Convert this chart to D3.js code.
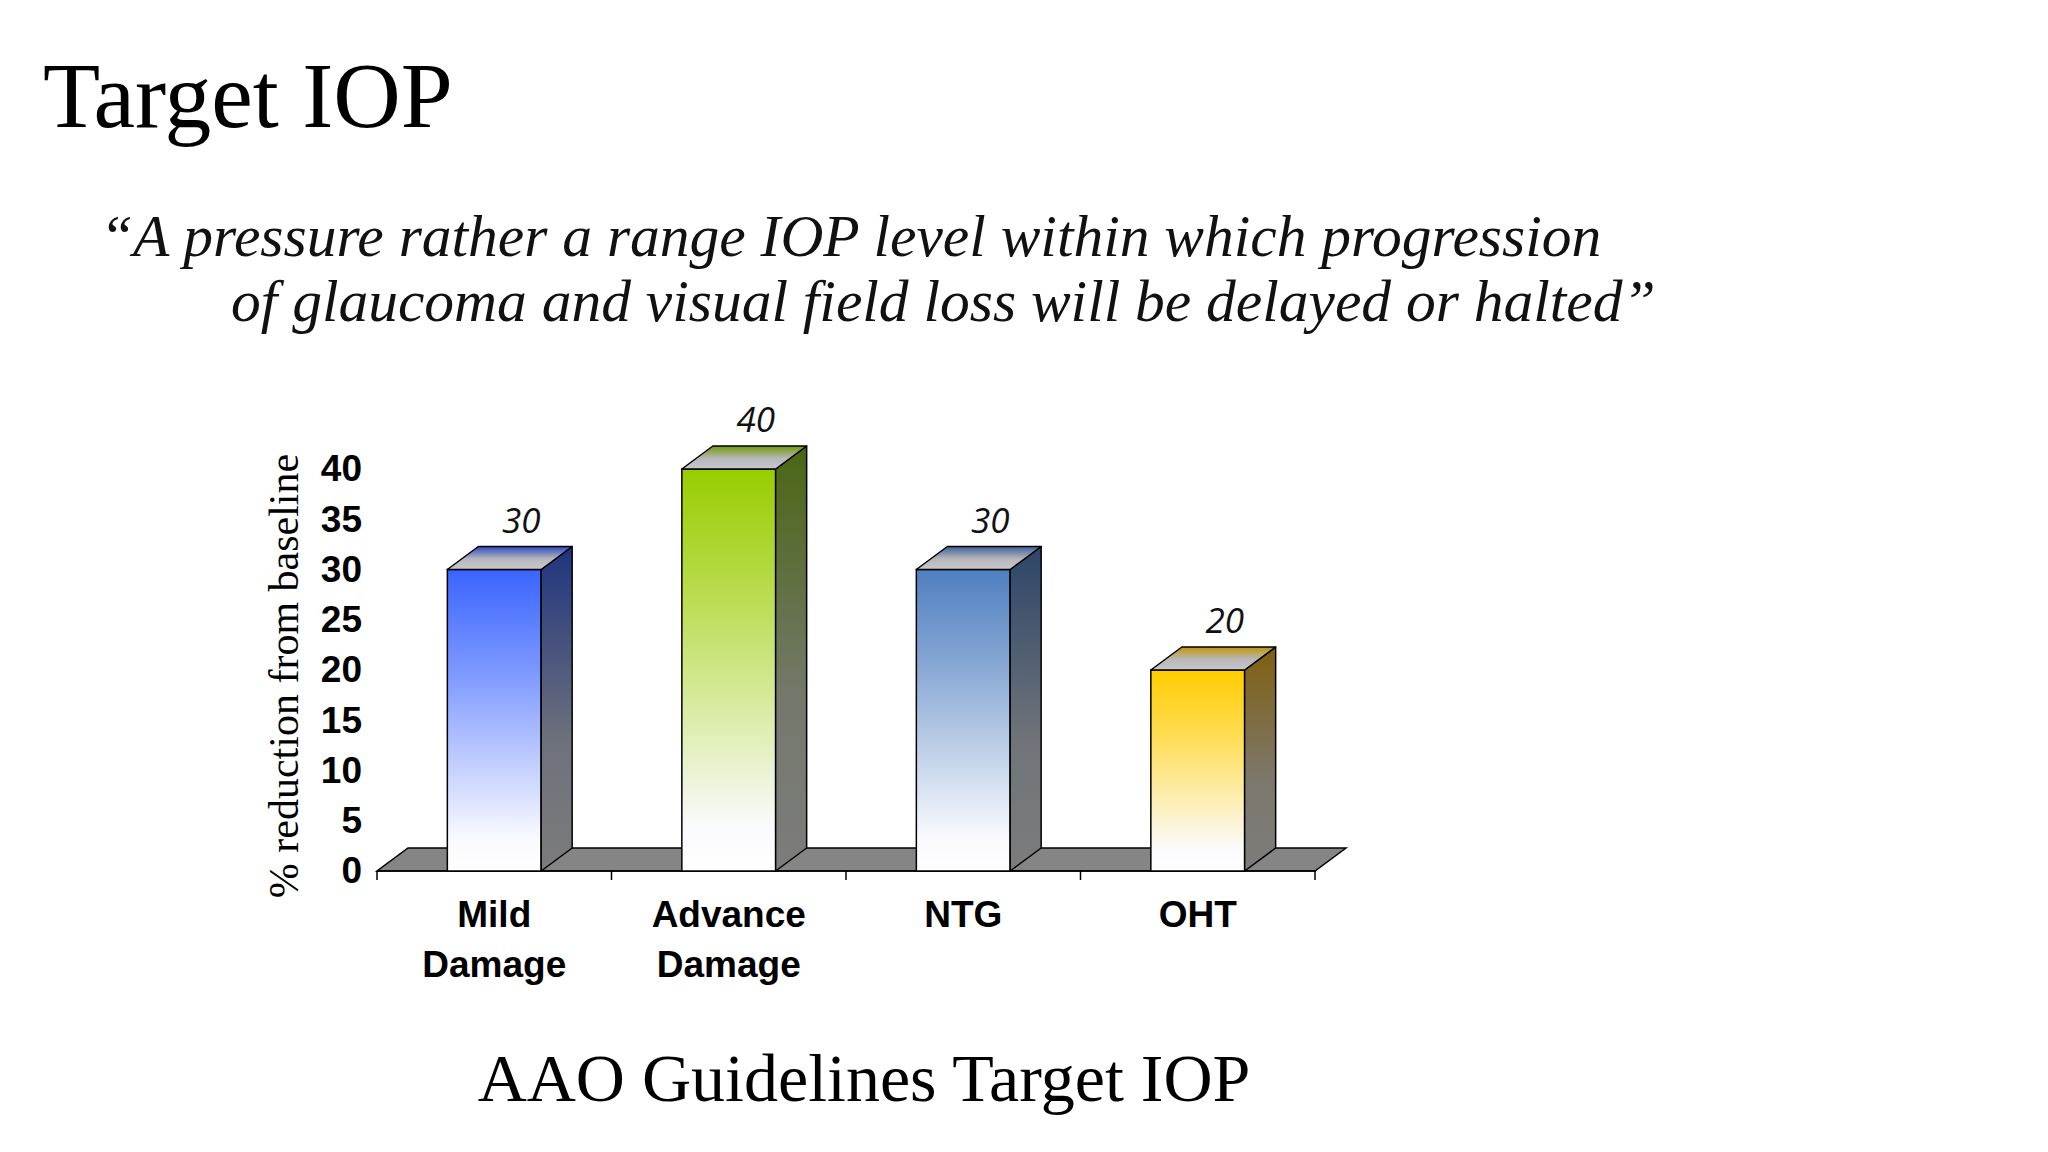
<!DOCTYPE html>
<html>
<head>
<meta charset="utf-8">
<script src="https://cdn.jsdelivr.net/npm/d3@7"></script>
<style>
  body { margin: 0; background: #ffffff; }
</style>
</head>
<body>
<script>
var categories = ["Mild Damage", "Advance Damage", "NTG", "OHT"];
var values = [30, 40, 30, 20];
var yTicks = [0, 5, 10, 15, 20, 25, 30, 35, 40];
var barColors = ["#3a64ff", "#99cc00", "#4f7fc0", "#ffcc00"];
var sideColors = ["#1f347f", "#4a6614", "#2c4569", "#806010"];

var w = 2048, h = 1152;
var depth = { dx: 31, dy: -23 };

var svg = d3.select("body").append("svg").attr("width", w).attr("height", h);
svg.append("rect").attr("width", w).attr("height", h).attr("fill", "#ffffff");

var x = d3.scaleBand().domain(categories).range([377, 1315]).padding(0);
var y = d3.scaleLinear().domain([0, 40]).range([871, 469]);
var barW = x.bandwidth() * 0.4;

// titles
svg.append("text").attr("x", 43).attr("y", 127)
    .attr("font-family", "Liberation Serif, Times New Roman, serif")
    .attr("font-size", 93.5).attr("fill", "#000").text("Target IOP");

var quote = svg.append("g")
    .attr("font-family", "Liberation Serif, Times New Roman, serif")
    .attr("font-style", "italic").attr("font-size", 59.5).attr("fill", "#111");
quote.append("text").attr("x", 100).attr("y", 256)
    .text("\u201cA pressure rather a range IOP level within which progression");
quote.append("text").attr("x", 231).attr("y", 321)
    .text("of glaucoma and visual field loss will be delayed or halted\u201d");

svg.append("text").attr("x", 864).attr("y", 1101).attr("text-anchor", "middle")
    .attr("font-family", "Liberation Serif, Times New Roman, serif")
    .attr("font-size", 68).attr("fill", "#000").text("AAO Guidelines Target IOP");

// gradients
var defs = svg.append("defs");
categories.forEach(function (c, i) {
    var gf = defs.append("linearGradient").attr("id", "front" + i)
        .attr("x1", 0).attr("y1", 0).attr("x2", 0).attr("y2", 1);
    gf.append("stop").attr("offset", "0").attr("stop-color", barColors[i]);
    gf.append("stop").attr("offset", "0.35").attr("stop-color", d3.interpolateRgb(barColors[i], "#fff")(0.35));
    gf.append("stop").attr("offset", "0.9").attr("stop-color", "#fbfbff");
    gf.append("stop").attr("offset", "1").attr("stop-color", "#ffffff");

    var gs = defs.append("linearGradient").attr("id", "side" + i)
        .attr("x1", 0).attr("y1", 0).attr("x2", 0).attr("y2", 1);
    gs.append("stop").attr("offset", "0").attr("stop-color", sideColors[i]);
    gs.append("stop").attr("offset", "0.6").attr("stop-color", d3.interpolateRgb(sideColors[i], "#7c7c7c")(0.85));
    gs.append("stop").attr("offset", "1").attr("stop-color", "#7c7c7c");

    var gt = defs.append("linearGradient").attr("id", "top" + i)
        .attr("x1", 0).attr("y1", 1).attr("x2", 0).attr("y2", 0);
    gt.append("stop").attr("offset", "0").attr("stop-color", "#c8c8cc");
    gt.append("stop").attr("offset", "0.45").attr("stop-color", "#b8b8bc");
    gt.append("stop").attr("offset", "1").attr("stop-color", d3.interpolateRgb(sideColors[i], barColors[i])(0.5));
});

// floor
var x0 = x.range()[0], x1 = x.range()[1], y0 = y(0);
svg.append("polygon")
    .attr("points", [[x0, y0], [x1, y0], [x1 + depth.dx, y0 + depth.dy], [x0 + depth.dx, y0 + depth.dy]].join(" "))
    .attr("fill", "#858585").attr("stroke", "#000").attr("stroke-width", 1.5);

// bottom axis line + ticks at band edges
svg.append("line").attr("x1", x0).attr("x2", x1).attr("y1", y0).attr("y2", y0)
    .attr("stroke", "#000").attr("stroke-width", 1.5);
var edges = categories.map(function (c) { return x(c); }).concat([x1]);
svg.selectAll("line.tick").data(edges).enter().append("line")
    .attr("x1", function (d) { return d; }).attr("x2", function (d) { return d; })
    .attr("y1", y0).attr("y2", y0 + 9)
    .attr("stroke", "#000").attr("stroke-width", 1.5);

// bars
var bars = svg.selectAll("g.bar").data(values).enter().append("g").attr("class", "bar");
function bx(d, i) { return x(categories[i]) + (x.bandwidth() - barW) / 2; }

bars.append("rect")
    .attr("x", bx)
    .attr("y", function (d) { return y(d); })
    .attr("width", barW)
    .attr("height", function (d) { return y0 - y(d); })
    .attr("fill", function (d, i) { return "url(#front" + i + ")"; })
    .attr("stroke", "#000").attr("stroke-width", 1.5);

bars.append("polygon")
    .attr("points", function (d, i) {
        var l = bx(d, i) + barW, t = y(d);
        return [[l, t], [l + depth.dx, t + depth.dy], [l + depth.dx, y0 + depth.dy], [l, y0]].join(" ");
    })
    .attr("fill", function (d, i) { return "url(#side" + i + ")"; })
    .attr("stroke", "#000").attr("stroke-width", 1.5).attr("stroke-linejoin", "round");

bars.append("polygon")
    .attr("points", function (d, i) {
        var l = bx(d, i), t = y(d);
        return [[l, t], [l + barW, t], [l + barW + depth.dx, t + depth.dy], [l + depth.dx, t + depth.dy]].join(" ");
    })
    .attr("fill", function (d, i) { return "url(#top" + i + ")"; })
    .attr("stroke", "#000").attr("stroke-width", 1.5).attr("stroke-linejoin", "round");

// value labels
bars.append("text")
    .attr("x", function (d, i) { return bx(d, i) + barW / 2 + 27; })
    .attr("y", function (d) { return y(d) + depth.dy - 14; })
    .attr("text-anchor", "middle")
    .attr("font-family", "Open Sans, sans-serif").attr("font-style", "italic")
    .attr("font-size", 35).attr("fill", "#111")
    .text(function (d) { return d; });

// y axis tick labels
var yAxis = d3.axisLeft(y).tickValues(yTicks).tickSize(0).tickPadding(15);
var ga = svg.append("g").attr("transform", "translate(" + x0 + ",0)").call(yAxis);
ga.select(".domain").remove();
ga.selectAll("text")
    .attr("font-family", "Liberation Sans, Arial, sans-serif")
    .attr("font-weight", "bold").attr("font-size", 37).attr("fill", "#000");

// y axis title
svg.append("text")
    .attr("transform", "translate(298,676) rotate(-90)")
    .attr("text-anchor", "middle")
    .attr("font-family", "Liberation Serif, Times New Roman, serif")
    .attr("font-size", 42).attr("fill", "#000")
    .text("% reduction from baseline");

// category labels
var cl = svg.selectAll("text.cat").data(categories).enter().append("text")
    .attr("class", "cat")
    .attr("text-anchor", "middle")
    .attr("font-family", "Liberation Sans, Arial, sans-serif")
    .attr("font-weight", "bold").attr("font-size", 37).attr("fill", "#000");
cl.each(function (c) {
    var words = c.split(" ");
    var t = d3.select(this);
    words.forEach(function (wd, k) {
        t.append("tspan").attr("x", x(c) + x.bandwidth() / 2)
            .attr("y", 927 + k * 50).text(wd);
    });
});
</script>
</body>
</html>
